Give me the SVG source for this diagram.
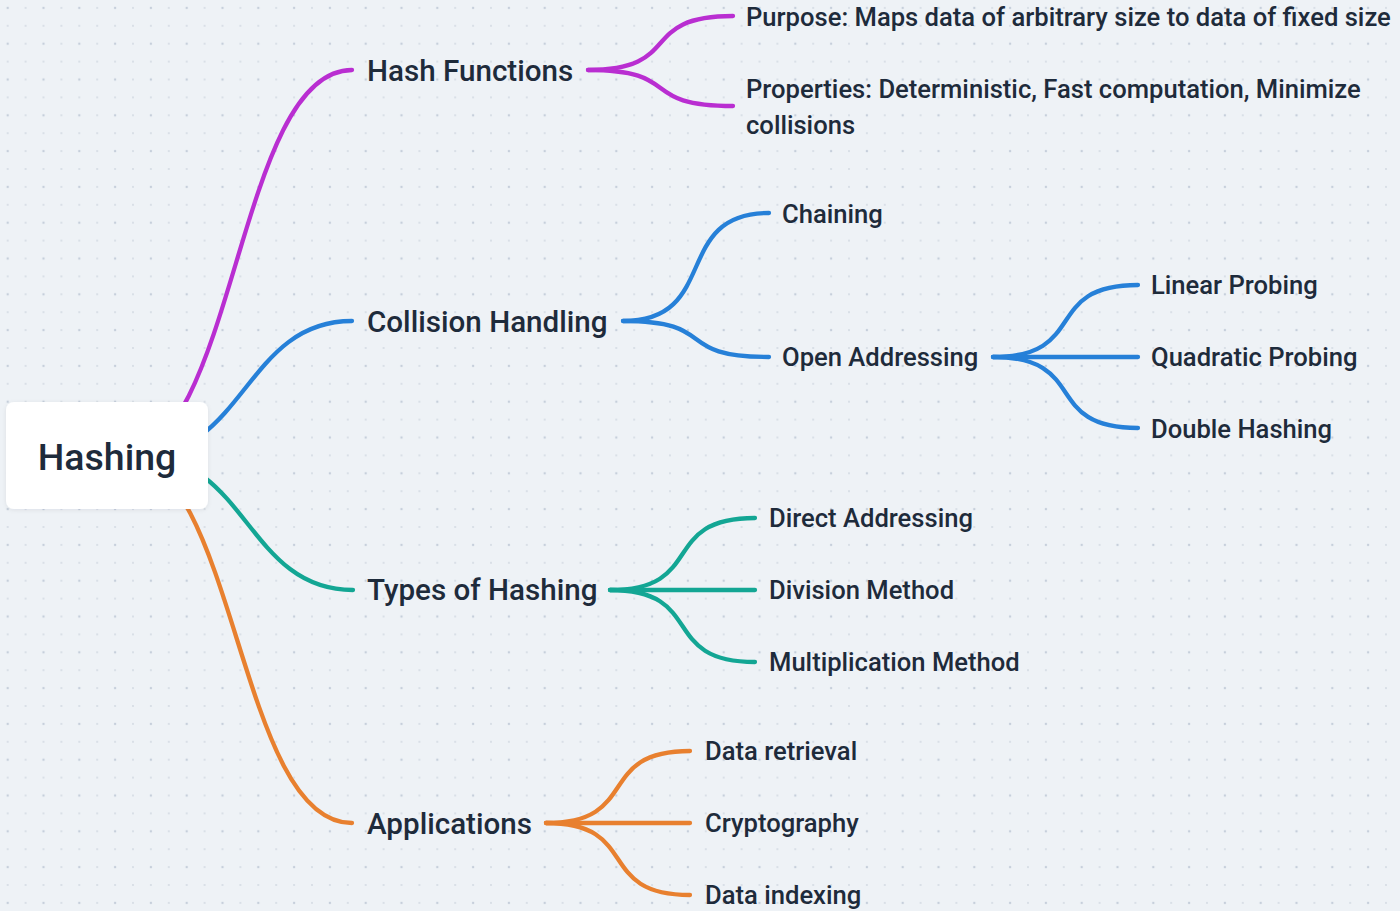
<svg xmlns="http://www.w3.org/2000/svg" width="1400" height="911" viewBox="0 0 1400 911">
  <defs>
    <pattern id="dots" patternUnits="userSpaceOnUse" x="-1.25" y="-1.05" width="35.8" height="35.8">
      <circle cx="8.95" cy="8.95" r="1.25" fill="#c6cfdb"/>
      <circle cx="26.85" cy="8.95" r="0.9" fill="#d0d7e0"/>
      <circle cx="8.95" cy="26.85" r="0.9" fill="#d0d7e0"/>
      <circle cx="26.85" cy="26.85" r="0.9" fill="#d0d7e0"/>
    </pattern>
    <filter id="shadow" x="-10%" y="-20%" width="120%" height="140%">
      <feDropShadow dx="0" dy="1" stdDeviation="2" flood-color="#1e2b3b" flood-opacity="0.08"/>
    </filter>
  </defs>
  <style>
    .t { font-family: Roboto, "Liberation Sans", sans-serif; fill: #1e2b3b; font-weight: 500; }
    .root { font-size: 37.5px; }
    .l1 { font-size: 29.6px; }
    .l2 { font-size: 25.6px; }
    .e { fill: none; stroke-linecap: round; stroke-linejoin: round; stroke-width: 4.3; }
    .mg { stroke: #b92ed1; }
    .bl { stroke: #2680d8; }
    .tl { stroke: #13a694; }
    .or { stroke: #e8802f; }
  </style>
  <rect width="1400" height="911" fill="#eef2f6"/>
  <rect width="1400" height="911" fill="url(#dots)"/>

  <g id="connectors">
    <path class="e mg" d="M120,456 C236,456 236,70 352,70"/>
    <path class="e bl" d="M138,456 C245,456 245,321 352,321"/>
    <path class="e tl" d="M141,456 C247,456 247,590 353,590"/>
    <path class="e or" d="M122,456 C237,456 237,823 352,823"/>

    <path class="e mg" d="M588,70 C685,70 636,16 733,16"/>
    <path class="e mg" d="M588,70 C685,70 636,106 733,106"/>

    <path class="e bl" d="M623,321 C721,321 671,213 769,213"/>
    <path class="e bl" d="M623,321 C721,321 671,357 769,357"/>

    <path class="e bl" d="M993,357 C1090,357 1041,285 1138,285"/>
    <path class="e bl" d="M993,357 H1138"/>
    <path class="e bl" d="M993,357 C1090,357 1041,428 1138,428"/>

    <path class="e tl" d="M610,590 C707,590 658,518 755,518"/>
    <path class="e tl" d="M610,590 H755"/>
    <path class="e tl" d="M610,590 C707,590 658,662 755,662"/>

    <path class="e or" d="M546,823 C642,823 594,751 690,751"/>
    <path class="e or" d="M546,823 H690"/>
    <path class="e or" d="M546,823 C642,823 594,895 690,895"/>
  </g>

  <g id="node-hashing">
    <rect x="6" y="402" width="202" height="107" rx="8" fill="#ffffff" filter="url(#shadow)"/>
    <text class="t root" x="107" y="470" text-anchor="middle">Hashing</text>
  </g>

  <g id="node-hash-functions">
    <text class="t l1" x="367" y="80.5">Hash Functions</text>
  </g>
  <g id="node-purpose">
    <text class="t l2" x="746" y="25.5">Purpose: Maps data of arbitrary size to data of fixed size</text>
  </g>
  <g id="node-properties">
    <text class="t l2" x="746" y="98">Properties: Deterministic, Fast computation, Minimize</text>
    <text class="t l2" x="746" y="134">collisions</text>
  </g>

  <g id="node-collision-handling">
    <text class="t l1" x="367" y="331.5">Collision Handling</text>
  </g>
  <g id="node-chaining">
    <text class="t l2" x="782" y="222.5">Chaining</text>
  </g>
  <g id="node-open-addressing">
    <text class="t l2" x="782" y="366">Open Addressing</text>
  </g>
  <g id="node-linear-probing">
    <text class="t l2" x="1151" y="294">Linear Probing</text>
  </g>
  <g id="node-quadratic-probing">
    <text class="t l2" x="1151" y="366">Quadratic Probing</text>
  </g>
  <g id="node-double-hashing">
    <text class="t l2" x="1151" y="437.5">Double Hashing</text>
  </g>

  <g id="node-types-of-hashing">
    <text class="t l1" x="367" y="600">Types of Hashing</text>
  </g>
  <g id="node-direct-addressing">
    <text class="t l2" x="769" y="527">Direct Addressing</text>
  </g>
  <g id="node-division-method">
    <text class="t l2" x="769" y="599">Division Method</text>
  </g>
  <g id="node-multiplication-method">
    <text class="t l2" x="769" y="671">Multiplication Method</text>
  </g>

  <g id="node-applications">
    <text class="t l1" x="367" y="833.5">Applications</text>
  </g>
  <g id="node-data-retrieval">
    <text class="t l2" x="705" y="760">Data retrieval</text>
  </g>
  <g id="node-cryptography">
    <text class="t l2" x="705" y="832">Cryptography</text>
  </g>
  <g id="node-data-indexing">
    <text class="t l2" x="705" y="903.5">Data indexing</text>
  </g>
</svg>
